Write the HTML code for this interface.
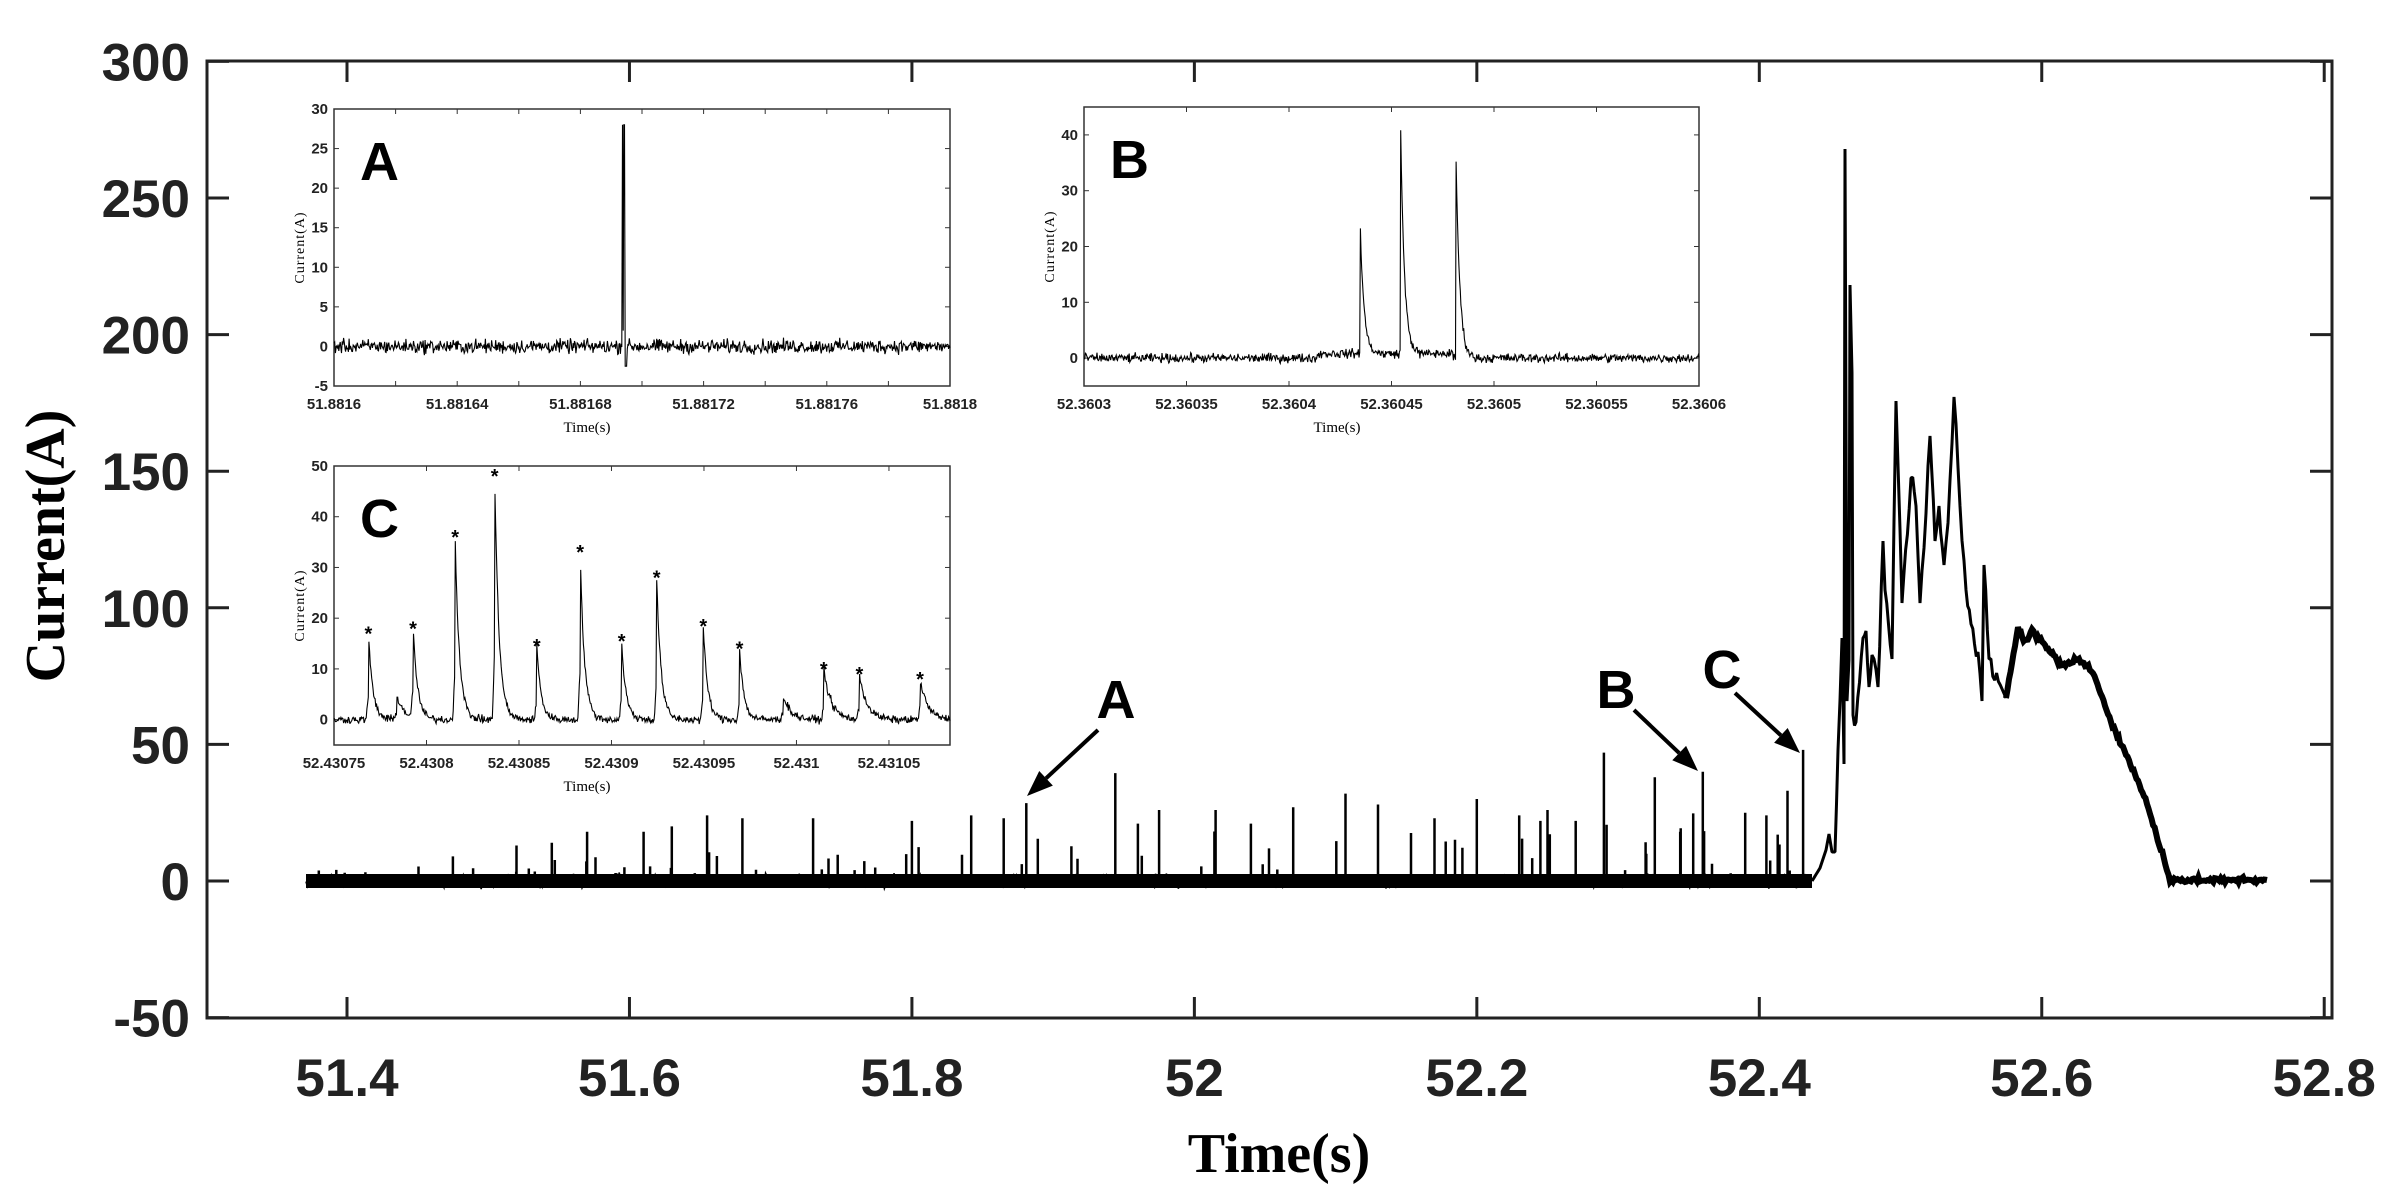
<!DOCTYPE html>
<html><head><meta charset="utf-8"><style>
html,body{margin:0;padding:0;background:#fff}
svg{display:block}
.tk{font-family:"Liberation Sans",sans-serif;font-weight:bold;font-size:53px;fill:#222}
.it{font-family:"Liberation Sans",sans-serif;font-weight:bold;font-size:15px;fill:#222}
.il{font-family:"Liberation Serif",serif;font-size:15px;fill:#000}
.big{font-family:"Liberation Sans",sans-serif;font-weight:bold;font-size:54px;fill:#000}
</style></head><body>
<svg id="s" width="2408" height="1197" viewBox="0 0 2408 1197" xmlns="http://www.w3.org/2000/svg">
<rect width="2408" height="1197" fill="#fff"/>
<g id="g"></g>
<text x="51" y="546" transform="rotate(-90 51 546)" text-anchor="middle" dominant-baseline="middle" style="font-family:'Liberation Serif',serif;font-weight:bold;font-size:56px">Current(A)</text>
<text x="1279" y="1172" text-anchor="middle" style="font-family:'Liberation Serif',serif;font-weight:bold;font-size:56px">Time(s)</text>
</svg>
<script>
var g=document.getElementById('g');var out='';
var seed=12345;function rnd(){seed=(seed*1103515245+12345)&0x7fffffff;return seed/0x7fffffff;}
function gr(){return (rnd()+rnd()+rnd()-1.5)/1.5;}
var L=207,R=2332,T=61,B=1018;
function X(t){return 347+(t-51.4)*1412.3;}
function Y(v){return 881-v*2.732;}
out+='<rect x="'+L+'" y="'+T+'" width="'+(R-L)+'" height="'+(B-T)+'" fill="none" stroke="#222" stroke-width="3"/>';
for(var v=-50;v<=300;v+=50){var y=Y(v);out+='<line x1="'+L+'" y1="'+y+'" x2="'+(L+22)+'" y2="'+y+'" stroke="#222" stroke-width="3"/><line x1="'+R+'" y1="'+y+'" x2="'+(R-22)+'" y2="'+y+'" stroke="#222" stroke-width="3"/>';
out+='<text class="tk" x="190" y="'+(y+19)+'" text-anchor="end">'+v+'</text>';}
var xl=['51.4','51.6','51.8','52','52.2','52.4','52.6','52.8'];
for(var i=0;i<8;i++){var x=X(51.4+0.2*i);out+='<line x1="'+x+'" y1="'+B+'" x2="'+x+'" y2="'+(B-21)+'" stroke="#222" stroke-width="3"/><line x1="'+x+'" y1="'+T+'" x2="'+x+'" y2="'+(T+21)+'" stroke="#222" stroke-width="3"/>';
out+='<text class="tk" x="'+x+'" y="1096" text-anchor="middle">'+xl[i]+'</text>';}
var p='';for(var x=306;x<=1812;x+=1.2){p+=x.toFixed(1)+','+(881+gr()*9).toFixed(1)+' ';}
out+='<polyline points="'+p+'" fill="none" stroke="#000" stroke-width="1.6"/>';
out+='<rect x="306" y="874" width="1506" height="14" fill="#000"/>';
var sp=[];
for(var t=51.38;t<52.43;t+=0.004+rnd()*0.012){var f=(t-51.38)/1.05;if(rnd()<0.55){sp.push([t,2+rnd()*(3+f*22)]);}}
var fixed=[[51.881,28.5],[51.944,39.5],[52.29,47],[52.326,38],[52.36,40],[52.39,25],[52.413,17],[52.405,24],[52.42,33],[52.431,48],[52.07,27],[52.107,32],[52.13,28],[52.17,23],[52.2,30],[52.245,22],[52.25,26],[51.975,26],[51.96,21],[51.865,23],[51.842,24],[51.8,22],[51.73,23],[51.68,23],[51.655,24],[51.63,20],[51.61,18],[51.57,18],[51.545,14],[51.52,13],[51.475,9],[52.04,21],[52.015,26],[52.23,24],[52.27,22],[52.344,18],[52.32,10],[52.305,4]];
sp=sp.concat(fixed);
p='';sp.forEach(function(s){var x=X(s[0]);p+='M'+x.toFixed(1)+' 881V'+Y(s[1]).toFixed(1)+' ';});
out+='<path d="'+p+'" stroke="#000" stroke-width="2.5" fill="none"/>';
var bp=[[1812,881],[1820,868],[1826,850],[1829,834],[1832,852],[1835,852],[1838,750],[1842,638],[1844,764],[1845,149],[1847,701],[1849,660],[1850,285],[1852,373],[1853,715],[1856,722],[1863,638],[1866,631],[1869,687],[1872,655],[1874,659],[1878,687],[1883,541],[1885,590],[1892,659],[1896,401],[1902,603],[1911,478],[1916,506],[1920,603],[1924,548],[1930,436],[1935,541],[1939,506],[1944,565],[1948,523],[1954,397],[1960,506],[1966,590],[1971,624],[1978,652],[1982,701],[1984,565],[1989,659],[2006,698]];
// jitter interpolation
var pts=[];for(var i=0;i<bp.length-1;i++){var a=bp[i],b=bp[i+1];var n=Math.max(1,Math.round((b[0]-a[0])/2));for(var k=0;k<n;k++){var f=k/n;var x=a[0]+(b[0]-a[0])*f,y=a[1]+(b[1]-a[1])*f;if(x>1836&&x<2000&&k>0)y+=gr()*14;pts.push([x,y]);}}
pts.push(bp[bp.length-1]);
p='';pts.forEach(function(q,i){p+=(i?'L':'M')+q[0].toFixed(1)+' '+q[1].toFixed(1)+' ';});
out+='<path d="'+p+'" stroke="#000" stroke-width="3" fill="none" stroke-linejoin="bevel"/>';
var tail=[[2006,698],[2018,628],[2025,642],[2032,631],[2048,649],[2061,666],[2079,659],[2093,673],[2111,722],[2129,761],[2147,803],[2170,880],[2267,880]];
pts=[];for(var i=0;i<tail.length-1;i++){var a=tail[i],b=tail[i+1];var n=Math.max(1,Math.round((b[0]-a[0])/1.5));for(var k=0;k<n;k++){var f=k/n;pts.push([a[0]+(b[0]-a[0])*f,a[1]+(b[1]-a[1])*f+gr()*4]);}}
pts.push([2267,880]);
p='';pts.forEach(function(q,i){p+=(i?'L':'M')+q[0].toFixed(1)+' '+q[1].toFixed(1)+' ';});
out+='<path d="'+p+'" stroke="#000" stroke-width="6" fill="none"/>';
function arrow(x1,y1,x2,y2){var a=Math.atan2(y2-y1,x2-x1),l=26,w=10;var bx=x2-l*Math.cos(a),by=y2-l*Math.sin(a);
return '<line x1="'+x1+'" y1="'+y1+'" x2="'+bx+'" y2="'+by+'" stroke="#000" stroke-width="4"/><polygon points="'+x2+','+y2+' '+(bx+w*Math.sin(a))+','+(by-w*Math.cos(a))+' '+(bx-w*Math.sin(a))+','+(by+w*Math.cos(a))+'" fill="#000"/>';}
out+=arrow(1098,730,1027,796)+arrow(1634,710,1698,771)+arrow(1735,693,1800,753);
out+='<text class="big" x="1116" y="718" text-anchor="middle">A</text><text class="big" x="1616" y="708" text-anchor="middle">B</text><text class="big" x="1722" y="688" text-anchor="middle">C</text>';
function inset(x0,y0,x1,y1,ymin,ymax,yt,xt,xlab,xmin,xmax,letter,data,stars){
var s='<rect x="'+x0+'" y="'+y0+'" width="'+(x1-x0)+'" height="'+(y1-y0)+'" fill="#fff" stroke="#333" stroke-width="1.5"/>';
function yy(v){return y1-(v-ymin)/(ymax-ymin)*(y1-y0);}
function xx(t){return x0+(t-xmin)/(xmax-xmin)*(x1-x0);}
yt.forEach(function(v){var y=yy(v);s+='<line x1="'+x0+'" y1="'+y+'" x2="'+(x0+5)+'" y2="'+y+'" stroke="#333"/><line x1="'+x1+'" y1="'+y+'" x2="'+(x1-5)+'" y2="'+y+'" stroke="#333"/><text class="it" x="'+(x0-6)+'" y="'+(y+5)+'" text-anchor="end">'+v+'</text>';});
xt.forEach(function(t){var x=xx(t);s+='<line x1="'+x+'" y1="'+y1+'" x2="'+x+'" y2="'+(y1-5)+'" stroke="#333"/><line x1="'+x+'" y1="'+y0+'" x2="'+x+'" y2="'+(y0+5)+'" stroke="#333"/>';});
xlab.forEach(function(q){s+='<text class="it" x="'+xx(q[0])+'" y="'+(y1+23)+'" text-anchor="middle">'+q[1]+'</text>';});
s+='<text class="il" x="'+(x0+253)+'" y="'+(y1+46)+'" text-anchor="middle">Time(s)</text>';
s+='<text class="il" x="'+(x0-33)+'" y="'+((y0+y1)/2)+'" transform="rotate(-90 '+(x0-33)+' '+((y0+y1)/2)+')" text-anchor="middle" dominant-baseline="middle" style="font-size:14px;letter-spacing:1px">Current(A)</text>';
s+='<text class="big" x="'+(x0+26)+'" y="'+(y0+71)+'">'+letter+'</text>';
var p='';for(var i=0;i<data.length;i++){var x=x0+i*(x1-x0)/(data.length-1);p+=x.toFixed(1)+','+yy(data[i]).toFixed(1)+' ';}
s+='<polyline points="'+p+'" fill="none" stroke="#000" stroke-width="1.1"/>';
(stars||[]).forEach(function(q){var x=x0+q[0]*(x1-x0),y=yy(q[1])-2;s+='<text x="'+x+'" y="'+(y+9)+'" text-anchor="middle" style="font-family:Liberation Sans,sans-serif;font-weight:bold;font-size:20px">*</text>';});
return s;}
var N=900,d=[];for(var i=0;i<N;i++){var v=gr()*1.3;var f=i/(N-1);if(Math.abs(f-0.47)<0.002)v=28;else if(f>0.472&&f<0.476)v=-2.5;d.push(v);}
d[Math.round(0.47*(N-1))]=28;d[Math.round(0.47*(N-1))-1]=2;
out+=inset(334,109,950,386,-5,30,[-5,0,5,10,15,20,25,30],[51.8816,51.88162,51.88164,51.88166,51.88168,51.8817,51.88172,51.88174,51.88176,51.88178,51.8818],[[51.8816,'51.8816'],[51.88164,'51.88164'],[51.88168,'51.88168'],[51.88172,'51.88172'],[51.88176,'51.88176'],[51.8818,'51.8818']],51.8816,51.8818,'A',d);
d=[];for(var i=0;i<N;i++){var f=i/(N-1);var v=gr()*1.2;[[0.449,24],[0.515,40],[0.605,36]].forEach(function(q){var dt=f-q[0];if(dt>=0&&dt<0.03)v+=q[1]*Math.exp(-dt/0.006);});if(f>0.38&&f<0.6)v+=0.8;d.push(v);}
out+=inset(1084,107,1699,386,-5,45,[0,10,20,30,40],[52.3603,52.36035,52.3604,52.36045,52.3605,52.36055,52.3606],[[52.3603,'52.3603'],[52.36035,'52.36035'],[52.3604,'52.3604'],[52.36045,'52.36045'],[52.3605,'52.3605'],[52.36055,'52.36055'],[52.3606,'52.3606']],52.3603,52.3606,'B',d);
var pk=[[578,17],[622,5],[648,18],[714,36],[776,48],[842,14.5],[910,33],[975,15.5],[1030,28],[1103,18.5],[1160,14],[1228,5],[1292,10],[1348,9],[1443,8]];
pk=pk.map(function(q){return [(q[0]-524)/966,q[1]];});
d=[];for(var i=0;i<N;i++){var f=i/(N-1);var v=gr()*1.1;pk.forEach(function(q){var dt=f-q[0];if(dt>=-0.004&&dt<0.05){v+=dt<0?q[1]*(1+dt/0.004)*0.3:q[1]*Math.exp(-dt/(q[1]>12?0.007:0.012));}});d.push(v);}
var st=pk.filter(function(q){return q[1]>7;});
out+=inset(334,466,950,745,-5,50,[0,10,20,30,40,50],[52.43075,52.4308,52.43085,52.4309,52.43095,52.431,52.43105],[[52.43075,'52.43075'],[52.4308,'52.4308'],[52.43085,'52.43085'],[52.4309,'52.4309'],[52.43095,'52.43095'],[52.431,'52.431'],[52.43105,'52.43105']],52.43075,52.431083,'C',d,st);
g.innerHTML=out;
</script>
</body></html>
